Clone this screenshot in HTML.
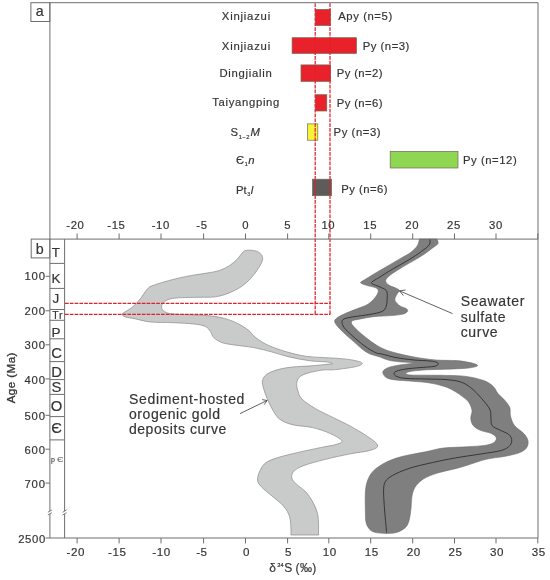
<!DOCTYPE html>
<html lang="en"><head><meta charset="utf-8"><title>Sulfur isotope chart</title>
<style>html,body{margin:0;padding:0;background:#fff}svg{display:block}</style></head>
<body>
<svg width="550" height="580" viewBox="0 0 550 580" font-family="'Liberation Sans', Arial, sans-serif" fill="#353535"><style>text{stroke:#353535;stroke-width:0.18px}</style>
<rect width="550" height="580" fill="#fff"/>
<path d="M318.5 535.0C318.5 532.9 318.7 526.0 318.5 522.2C318.3 518.4 318.1 515.4 317.1 512.0C316.1 508.6 314.6 505.2 312.7 501.8C310.8 498.4 308.2 494.5 305.5 491.6C302.8 488.7 299.0 486.7 296.7 484.4C294.4 482.1 292.3 480.2 291.8 478.0C291.3 475.8 291.8 473.4 293.8 471.3C295.8 469.2 298.9 467.4 304.0 465.5C309.1 463.6 316.6 461.6 324.4 459.6C332.1 457.7 343.2 455.2 350.5 453.8C357.8 452.4 363.5 452.0 368.0 450.9C372.5 449.8 376.1 448.6 377.3 447.1C378.5 445.7 377.3 444.2 375.3 442.2C373.3 440.2 369.2 437.6 365.1 434.9C361.0 432.2 355.8 429.1 350.5 426.2C345.2 423.3 338.9 420.4 333.1 417.5C327.3 414.6 320.8 411.8 315.6 408.7C310.4 405.6 304.7 401.8 301.8 398.9C298.9 396.0 298.9 393.9 298.0 391.3C297.1 388.8 296.5 385.9 296.7 383.6C296.9 381.3 297.6 379.0 299.3 377.3C301.0 375.6 303.1 374.6 306.9 373.4C310.7 372.2 317.4 370.7 322.2 370.1C327.0 369.5 329.9 370.2 335.5 369.6C341.1 369.0 351.4 367.7 355.8 366.6C360.2 365.6 362.6 364.4 362.2 363.3C361.8 362.2 357.8 361.1 353.3 360.2C348.9 359.3 343.2 358.8 335.5 358.2C327.8 357.6 315.1 357.5 306.9 356.4C298.7 355.3 292.9 353.6 286.5 351.8C280.1 350.0 273.8 347.8 268.7 345.5C263.6 343.2 259.4 340.4 256.0 337.8C252.6 335.2 251.4 332.5 248.4 330.2C245.4 327.9 242.2 325.8 238.2 323.8C234.2 321.8 229.8 319.8 224.5 318.4C219.2 317.0 213.0 316.2 206.7 315.6C200.3 315.0 192.3 314.9 186.4 314.6C180.5 314.3 174.8 314.4 171.0 313.8C167.2 313.2 165.0 312.2 163.4 310.8C161.8 309.4 161.3 307.4 161.7 305.7C162.1 304.0 163.6 301.9 166.0 300.6C168.4 299.3 170.7 298.6 176.2 298.0C181.7 297.4 192.5 297.5 199.0 297.3C205.5 297.1 210.5 297.5 215.3 296.8C220.1 296.1 223.8 295.0 228.0 293.4C232.2 291.8 236.9 289.6 240.7 287.1C244.5 284.6 247.9 281.4 250.9 278.2C253.9 275.0 256.6 271.0 258.5 268.0C260.4 265.0 261.8 262.5 262.4 260.4C262.9 258.3 262.6 256.8 261.8 255.3C261.0 253.8 259.3 252.3 257.3 251.5C255.3 250.7 251.9 250.2 249.6 250.2C247.3 250.2 245.6 250.0 243.6 251.5C241.6 253.0 239.6 256.8 237.3 259.1C235.0 261.4 232.6 263.6 229.6 265.5C226.6 267.4 223.2 269.2 219.4 270.5C215.6 271.8 212.2 272.1 206.7 273.1C201.2 274.1 192.8 275.1 186.4 276.4C180.0 277.7 174.2 279.1 168.5 280.7C162.8 282.3 155.6 284.3 152.0 285.8C148.4 287.3 148.8 287.5 146.9 289.6C145.0 291.7 142.8 295.6 140.5 298.5C138.2 301.4 135.7 304.4 132.9 306.7C130.2 309.0 125.8 311.2 124.0 312.5C122.2 313.8 122.0 313.9 122.2 314.6C122.4 315.3 123.1 316.2 125.3 316.9C127.5 317.6 131.3 318.0 135.5 318.9C139.7 319.8 144.3 321.4 150.7 322.0C157.0 322.6 166.4 322.4 173.6 322.7C180.8 323.0 188.7 323.4 194.0 324.0C199.3 324.6 202.7 325.2 205.4 326.5C208.2 327.8 209.1 329.7 210.5 331.6C211.9 333.5 211.9 335.9 214.0 337.8C216.1 339.7 218.9 341.6 222.9 342.9C226.9 344.2 233.1 344.7 238.2 345.5C243.3 346.3 247.9 346.4 253.4 347.5C258.9 348.6 265.4 350.2 271.3 351.8C277.2 353.4 282.6 355.4 289.0 356.9C295.4 358.4 303.0 359.8 309.4 360.7C315.8 361.6 323.5 361.5 327.3 362.0C331.1 362.5 331.5 363.5 332.4 363.8C329.0 364.1 318.8 365.2 312.0 365.8C305.2 366.4 297.5 366.4 291.6 367.1C285.7 367.8 280.6 368.8 276.4 370.1C272.2 371.4 268.5 372.9 266.2 374.7C263.9 376.5 262.8 378.8 262.4 381.1C262.0 383.4 262.8 385.7 263.6 388.7C264.4 391.7 266.0 395.6 267.4 398.9C268.8 402.2 270.0 405.4 272.0 408.7C274.0 412.0 275.9 416.2 279.3 418.9C282.7 421.6 286.8 423.2 292.4 424.7C298.0 426.1 306.4 426.1 312.7 427.6C319.0 429.1 325.3 431.3 330.2 433.5C335.1 435.7 340.8 438.9 341.8 440.7C342.8 442.5 339.4 443.4 336.0 444.5C332.6 445.6 327.8 446.1 321.5 447.4C315.2 448.7 305.5 450.7 298.2 452.4C290.9 454.1 283.1 455.9 277.8 457.6C272.5 459.3 269.1 460.5 266.2 462.5C263.3 464.5 261.8 466.9 260.4 469.8C258.9 472.7 257.3 477.1 257.5 480.0C257.7 482.9 259.4 484.6 261.8 487.3C264.2 490.0 268.4 492.9 272.0 496.0C275.6 499.1 280.7 502.8 283.6 506.2C286.5 509.6 288.3 512.8 289.5 516.4C290.7 520.0 290.7 524.9 290.9 528.0C291.1 531.1 290.9 533.8 290.9 535.0Z" fill="#c9caca" stroke="#8a8a8a" stroke-width="0.7" stroke-linejoin="round"/>
<path d="M419.5 239.0C419.1 240.1 418.8 243.6 417.3 245.8C415.8 248.0 413.6 250.2 410.7 252.4C407.8 254.6 403.8 256.5 399.8 258.9C395.8 261.2 391.1 263.9 386.7 266.5C382.3 269.1 377.2 272.0 373.6 274.2C370.0 276.4 366.9 278.4 364.9 279.6C362.9 280.8 362.1 281.1 361.4 281.6C360.7 282.1 360.3 282.4 360.5 282.8C360.7 283.2 361.2 283.5 362.5 284.0C363.8 284.5 365.8 285.1 368.2 285.8C370.6 286.5 375.3 287.2 376.9 288.4C378.5 289.5 378.6 290.9 378.0 292.7C377.4 294.5 375.4 297.3 373.6 299.3C371.8 301.3 370.0 303.1 367.1 304.7C364.2 306.3 359.8 307.6 356.2 309.1C352.6 310.6 348.4 312.1 345.3 313.5C342.2 314.9 339.4 316.1 337.6 317.4C335.8 318.7 334.6 319.6 334.6 321.1C334.6 322.6 335.8 324.3 337.6 326.5C339.4 328.7 342.6 331.6 345.3 334.2C348.0 336.8 351.1 339.2 354.0 341.8C356.9 344.4 360.0 347.5 362.7 349.5C365.4 351.5 367.1 352.8 370.0 354.0C372.9 355.2 376.7 355.9 380.0 357.0C383.3 358.1 386.3 359.8 390.0 360.6C393.7 361.4 398.2 361.6 402.0 362.0C405.8 362.4 413.3 362.5 413.0 363.0C412.7 363.5 403.8 364.3 400.0 365.0C396.2 365.7 392.7 366.2 390.0 367.0C387.3 367.8 385.2 368.9 384.0 370.0C382.8 371.1 382.5 372.3 383.0 373.6C383.5 374.9 384.8 376.9 387.0 378.0C389.2 379.1 392.2 379.5 396.0 380.0C399.8 380.5 404.3 380.5 410.0 381.0C415.7 381.5 424.0 382.0 430.0 383.0C436.0 384.0 441.7 385.5 446.0 387.0C450.3 388.5 453.2 390.4 456.0 392.0C458.8 393.6 460.4 395.0 462.5 396.6C464.6 398.2 466.9 399.6 468.5 401.9C470.1 404.2 471.6 407.4 472.0 410.2C472.4 413.0 470.6 415.9 470.8 418.5C471.0 421.1 471.6 423.5 473.2 425.5C474.8 427.5 477.4 429.0 480.3 430.3C483.2 431.6 488.3 432.1 490.9 433.3C493.5 434.5 495.5 435.9 496.1 437.4C496.7 438.9 496.1 440.8 494.5 442.1C492.9 443.4 490.7 444.4 486.2 445.2C481.7 446.0 474.4 446.3 467.3 446.8C460.2 447.3 450.6 447.2 443.6 448.0C436.7 448.8 432.5 450.4 425.6 451.8C418.7 453.2 408.7 454.7 402.0 456.5C395.3 458.3 390.2 460.1 385.5 462.5C380.8 464.9 376.6 467.8 373.6 470.7C370.6 473.6 369.1 476.6 367.7 480.2C366.3 483.8 365.8 486.9 365.4 492.0C365.0 497.1 365.3 505.8 365.4 510.9C365.5 516.0 365.3 519.6 366.1 522.7C366.9 525.9 368.5 528.1 370.1 529.8C371.8 531.4 373.1 532.0 376.0 532.6C378.9 533.2 384.2 533.5 387.8 533.4C391.4 533.3 394.4 533.2 397.3 532.2C400.2 531.2 403.5 529.4 405.5 527.4C407.5 525.4 408.2 523.5 409.1 520.4C410.0 517.2 410.5 512.5 411.0 508.5C411.5 504.6 411.2 500.2 411.9 496.7C412.6 493.2 413.1 490.2 415.0 487.3C416.9 484.4 419.6 481.4 423.3 479.0C427.0 476.6 431.9 474.9 437.4 473.1C442.9 471.3 451.4 469.7 456.4 468.4C461.4 467.1 462.3 466.7 467.3 465.2C472.3 463.7 479.9 460.8 486.2 459.3C492.5 457.8 499.6 457.4 505.1 456.3C510.6 455.2 515.8 454.1 519.3 452.7C522.8 451.3 524.9 450.0 526.4 448.0C527.9 446.0 528.4 443.3 528.0 440.9C527.6 438.5 526.2 436.4 524.0 433.8C521.8 431.2 516.8 428.4 514.5 425.5C512.2 422.6 511.3 419.1 510.5 416.1C509.7 413.2 510.7 410.4 509.8 407.8C508.9 405.2 507.1 403.1 505.1 400.7C503.1 398.3 500.0 396.0 498.0 393.6C496.0 391.2 495.7 388.7 493.3 386.5C490.9 384.3 488.4 382.3 483.8 380.6C479.2 378.9 472.3 377.3 466.0 376.4C459.7 375.5 452.7 375.6 446.0 375.4C439.3 375.2 432.0 375.3 426.0 375.2C420.0 375.1 413.4 375.3 410.0 375.0C406.6 374.7 405.8 373.8 405.8 373.2C405.8 372.6 407.6 372.0 410.0 371.5C412.4 371.0 415.7 370.7 420.0 370.3C424.3 369.9 430.3 369.6 436.0 369.4C441.7 369.2 448.3 369.2 454.0 368.9C459.7 368.6 466.1 368.4 470.0 367.8C473.9 367.2 477.6 366.4 477.6 365.5C477.6 364.6 473.6 363.4 470.0 362.6C466.4 361.8 461.7 361.0 456.0 360.6C450.3 360.2 443.0 360.6 436.0 360.0C429.0 359.4 420.7 358.2 414.0 357.0C407.3 355.8 401.3 354.4 396.0 353.0C390.7 351.6 386.5 350.3 382.4 348.4C378.3 346.5 375.1 344.4 371.5 341.8C367.9 339.2 363.6 335.8 360.5 333.1C357.4 330.4 354.4 327.3 352.9 325.5C351.4 323.7 351.4 323.3 351.4 322.5C351.4 321.7 351.4 321.1 352.9 320.5C354.4 319.9 357.1 319.5 360.5 318.9C363.9 318.3 368.5 317.2 373.6 316.7C378.7 316.1 386.2 316.0 391.1 315.6C396.0 315.2 400.4 314.8 403.1 314.1C405.8 313.4 406.9 312.2 407.5 311.3C408.1 310.4 407.7 309.6 406.4 308.7C405.1 307.8 401.7 307.2 399.8 305.8C397.9 304.4 395.6 302.2 395.0 300.4C394.4 298.6 395.8 296.5 396.5 294.9C397.2 293.2 399.4 291.6 399.4 290.5C399.4 289.4 398.2 289.3 396.5 288.4C394.8 287.5 390.7 286.4 388.9 285.1C387.1 283.8 385.4 282.3 385.6 280.7C385.8 279.1 387.6 277.3 390.0 275.3C392.4 273.3 396.0 271.1 399.8 268.7C403.6 266.3 408.9 263.5 412.9 261.1C416.9 258.7 420.5 256.7 423.8 254.5C427.1 252.3 430.1 249.8 432.5 248.0C434.9 246.2 437.3 245.1 438.0 243.6C438.7 242.1 437.1 239.8 436.9 239.0Z" fill="#7f7f7f" stroke="#6c6c6c" stroke-width="0.6" stroke-linejoin="round"/>
<path d="M429.9 239.0C429.8 239.9 430.7 242.6 429.3 244.7C427.9 246.8 425.1 248.8 421.6 251.3C418.1 253.9 413.2 257.1 408.5 260.0C403.8 262.9 398.2 265.8 393.3 268.7C388.4 271.6 382.7 275.1 379.1 277.5C375.5 279.9 371.5 281.4 371.5 282.9C371.5 284.4 376.6 285.3 379.1 286.6C381.6 287.9 385.0 288.8 386.3 290.5C387.6 292.2 387.2 294.6 387.2 297.1C387.2 299.7 387.1 303.4 386.3 305.8C385.5 308.2 385.2 309.9 382.4 311.3C379.6 312.8 374.0 313.6 369.3 314.5C364.6 315.4 358.2 316.0 354.0 316.7C349.8 317.4 346.2 318.0 344.2 318.9C342.2 319.8 342.0 320.8 342.0 322.2C342.0 323.6 342.6 325.4 344.2 327.6C345.8 329.8 348.4 332.2 351.8 335.3C355.2 338.4 360.9 343.3 364.9 346.2C368.9 349.1 372.9 351.4 375.8 352.7C378.7 354.0 378.6 353.2 382.0 354.0C385.4 354.8 390.7 356.6 396.0 357.6C401.3 358.6 408.3 359.4 414.0 360.0C419.7 360.6 426.2 360.6 430.0 361.0C433.8 361.4 435.7 361.8 437.0 362.4C438.3 363.0 438.5 363.7 438.0 364.4C437.5 365.1 437.0 365.9 434.0 366.4C431.0 366.9 424.7 367.2 420.0 367.6C415.3 368.0 409.8 368.4 406.0 369.0C402.2 369.6 399.0 370.2 397.0 371.0C395.0 371.8 394.0 372.7 394.0 373.6C394.0 374.5 395.0 375.8 397.0 376.6C399.0 377.4 401.2 378.0 406.0 378.4C410.8 378.8 419.3 378.8 426.0 379.0C432.7 379.2 440.3 379.1 446.0 379.6C451.7 380.1 456.1 380.5 460.2 381.8C464.3 383.1 467.2 384.9 470.8 387.7C474.4 390.5 478.4 394.8 481.5 398.4C484.6 401.9 488.1 405.9 489.7 409.0C491.3 412.1 490.5 414.6 490.9 417.3C491.3 420.1 490.5 423.3 492.1 425.5C493.7 427.7 497.6 428.8 500.4 430.3C503.1 431.8 506.7 432.7 508.6 434.3C510.5 435.9 511.5 437.8 511.7 439.7C511.9 441.6 511.5 443.8 509.8 445.6C508.1 447.4 506.2 449.0 501.5 450.4C496.8 451.8 489.2 452.6 481.5 453.9C473.8 455.1 463.6 456.5 455.5 457.9C447.4 459.3 440.4 460.8 432.7 462.5C425.0 464.2 415.8 466.2 409.1 468.4C402.4 470.6 396.4 473.3 392.5 475.5C388.6 477.7 387.0 479.0 385.5 481.4C384.0 483.8 383.8 485.5 383.6 489.6C383.4 493.7 384.0 501.1 384.3 506.2C384.6 511.3 385.1 516.0 385.5 520.4C385.9 524.8 386.4 530.6 386.6 532.6" fill="none" stroke="#2e2e2e" stroke-width="0.9"/>
<rect x="315.3" y="9.4" width="15.0" height="16.1" fill="#e8212b" stroke="#6e6a58" stroke-width="0.7"/>
<rect x="292.1" y="37.7" width="64.4" height="15.7" fill="#e8212b" stroke="#6e6a58" stroke-width="0.7"/>
<rect x="301.0" y="64.9" width="29.6" height="16.5" fill="#e8212b" stroke="#6e6a58" stroke-width="0.7"/>
<rect x="315.3" y="94.7" width="11.5" height="16.3" fill="#e8212b" stroke="#6e6a58" stroke-width="0.7"/>
<rect x="307.4" y="123.9" width="10.4" height="16.3" fill="#f5f43a" stroke="#6e6a58" stroke-width="0.7"/>
<rect x="390.2" y="151.4" width="67.8" height="16.6" fill="#8fd652" stroke="#6e6a58" stroke-width="0.7"/>
<rect x="312.5" y="179.2" width="19.1" height="16.5" fill="#5d5b5b" stroke="#6e6a58" stroke-width="0.7"/>
<g fill="none" stroke="#e0222b" stroke-width="1.25" stroke-dasharray="3.7 1.1">
<path d="M315.2 3.2V314.9"/><path d="M330 3.2V314.9"/>
<path d="M65 303.4H330.5"/><path d="M65 314.4H330.5"/>
</g>
<g fill="none" stroke="#6e6e6e" stroke-width="1">
<path d="M49.9 2.7H538.0V538H49.9Z"/>
<path d="M49.9 239.1H538.0"/>
<path d="M64.6 239.1V538"/>
<rect x="30.9" y="2.7" width="18.9" height="18.8"/>
<rect x="31.2" y="239.1" width="18.6" height="18.8"/>
<path d="M49.9 263.4H64.6"/>
<path d="M49.9 288.4H64.6"/>
<path d="M49.9 309.5H64.6"/>
<path d="M49.9 320.3H64.6"/>
<path d="M49.9 338.8H64.6"/>
<path d="M49.9 361.6H64.6"/>
<path d="M49.9 379.6H64.6"/>
<path d="M49.9 394.4H64.6"/>
<path d="M49.9 416.6H64.6"/>
<path d="M49.9 439.9H64.6"/>
<path d="M77.1 233.5V239.1"/>
<path d="M77.1 538V543.4"/>
<path d="M119.1 233.5V239.1"/>
<path d="M119.1 538V543.4"/>
<path d="M161.0 233.5V239.1"/>
<path d="M161.0 538V543.4"/>
<path d="M203.6 233.5V239.1"/>
<path d="M203.6 538V543.4"/>
<path d="M245.5 233.5V239.1"/>
<path d="M245.5 538V543.4"/>
<path d="M287.6 233.5V239.1"/>
<path d="M287.6 538V543.4"/>
<path d="M328.8 233.5V239.1"/>
<path d="M328.8 538V543.4"/>
<path d="M370.7 233.5V239.1"/>
<path d="M370.7 538V543.4"/>
<path d="M412.7 233.5V239.1"/>
<path d="M412.7 538V543.4"/>
<path d="M454.5 233.5V239.1"/>
<path d="M454.5 538V543.4"/>
<path d="M496.0 233.5V239.1"/>
<path d="M496.0 538V543.4"/>
<path d="M537.8 233.5V239.1"/>
<path d="M537.8 538V543.4"/>
<path d="M45.5 276.3H49.9"/>
<path d="M45.5 310.8H49.9"/>
<path d="M45.5 344.8H49.9"/>
<path d="M45.5 378.9H49.9"/>
<path d="M45.5 415.3H49.9"/>
<path d="M45.5 449.2H49.9"/>
<path d="M45.5 483.1H49.9"/>
<path d="M45.5 538.0H49.9"/>
</g>
<rect x="47.5" y="511.2" width="19.5" height="2.6" fill="#fff"/>
<g fill="none" stroke="#6e6e6e" stroke-width="0.9">
<path d="M47.9 512.3L51.9 509.9"/>
<path d="M47.9 515.0L51.9 512.6"/>
<path d="M62.6 512.3L66.6 509.9"/>
<path d="M62.6 515.0L66.6 512.6"/>
</g>
<g fill="none" stroke="#3a3a3a" stroke-width="0.8">
<path d="M240 413.6L267.1 400.5"/><path d="M262.2 399.6L267.1 400.5L264.2 404.6"/>
<path d="M452.5 313.6L399.6 290.9"/><path d="M405.5 290L399.6 290.9L403.3 295.5"/>
</g>
<text x="75.4" y="229.0" font-size="11.3" text-anchor="middle" letter-spacing="0.6">-20</text>
<text x="116.4" y="229.0" font-size="11.3" text-anchor="middle" letter-spacing="0.6">-15</text>
<text x="160.8" y="229.0" font-size="11.3" text-anchor="middle" letter-spacing="0.6">-10</text>
<text x="201.9" y="229.0" font-size="11.3" text-anchor="middle" letter-spacing="0.6">-5</text>
<text x="245.8" y="229.0" font-size="11.3" text-anchor="middle" letter-spacing="0.6">0</text>
<text x="287.6" y="229.0" font-size="11.3" text-anchor="middle" letter-spacing="0.6">5</text>
<text x="328.3" y="229.0" font-size="11.3" text-anchor="middle" letter-spacing="0.6">10</text>
<text x="370.2" y="229.0" font-size="11.3" text-anchor="middle" letter-spacing="0.6">15</text>
<text x="412.2" y="229.0" font-size="11.3" text-anchor="middle" letter-spacing="0.6">20</text>
<text x="454.0" y="229.0" font-size="11.3" text-anchor="middle" letter-spacing="0.6">25</text>
<text x="496.0" y="229.0" font-size="11.3" text-anchor="middle" letter-spacing="0.6">30</text>
<text x="75.9" y="555.6" font-size="11.6" text-anchor="middle" letter-spacing="0.6">-20</text>
<text x="117.4" y="555.6" font-size="11.6" text-anchor="middle" letter-spacing="0.6">-15</text>
<text x="161.5" y="555.6" font-size="11.6" text-anchor="middle" letter-spacing="0.6">-10</text>
<text x="201.9" y="555.6" font-size="11.6" text-anchor="middle" letter-spacing="0.6">-5</text>
<text x="246.5" y="555.6" font-size="11.6" text-anchor="middle" letter-spacing="0.6">0</text>
<text x="288.6" y="555.6" font-size="11.6" text-anchor="middle" letter-spacing="0.6">5</text>
<text x="329.8" y="555.6" font-size="11.6" text-anchor="middle" letter-spacing="0.6">10</text>
<text x="371.7" y="555.6" font-size="11.6" text-anchor="middle" letter-spacing="0.6">15</text>
<text x="413.7" y="555.6" font-size="11.6" text-anchor="middle" letter-spacing="0.6">20</text>
<text x="455.5" y="555.6" font-size="11.6" text-anchor="middle" letter-spacing="0.6">25</text>
<text x="497.0" y="555.6" font-size="11.6" text-anchor="middle" letter-spacing="0.6">30</text>
<text x="538.8" y="555.6" font-size="11.6" text-anchor="middle" letter-spacing="0.6">35</text>
<text x="24.4" y="280.3" font-size="11.3" text-anchor="start" textLength="20.6" lengthAdjust="spacing">100</text>
<text x="24.4" y="314.8" font-size="11.3" text-anchor="start" textLength="20.6" lengthAdjust="spacing">200</text>
<text x="24.4" y="349.2" font-size="11.3" text-anchor="start" textLength="20.6" lengthAdjust="spacing">300</text>
<text x="24.4" y="384.2" font-size="11.3" text-anchor="start" textLength="20.6" lengthAdjust="spacing">400</text>
<text x="24.4" y="420.2" font-size="11.3" text-anchor="start" textLength="20.6" lengthAdjust="spacing">500</text>
<text x="24.4" y="454.4" font-size="11.3" text-anchor="start" textLength="20.6" lengthAdjust="spacing">600</text>
<text x="24.4" y="487.9" font-size="11.3" text-anchor="start" textLength="20.6" lengthAdjust="spacing">700</text>
<text x="18.2" y="542.6" font-size="11.3" text-anchor="start" textLength="27.0" lengthAdjust="spacing">2500</text>
<text x="39.8" y="15.9" font-size="14.3" text-anchor="middle">a</text>
<text x="39.8" y="253.7" font-size="14.3" text-anchor="middle">b</text>
<text x="55.9" y="256.8" font-size="13.5" text-anchor="middle">T</text>
<text x="55.9" y="282.5" font-size="13.5" text-anchor="middle">K</text>
<text x="55.9" y="302.7" font-size="13.5" text-anchor="middle">J</text>
<text x="55.9" y="336.6" font-size="13.5" text-anchor="middle">P</text>
<text x="56.5" y="358.0" font-size="14.8" text-anchor="middle">C</text>
<text x="56.5" y="376.7" font-size="14.8" text-anchor="middle">D</text>
<text x="56.5" y="392.4" font-size="14.8" text-anchor="middle">S</text>
<text x="56.5" y="411.0" font-size="14.8" text-anchor="middle">O</text>
<text x="56.5" y="433.1" font-size="14.8" text-anchor="middle">Є</text>
<text x="52.2" y="318.5" font-size="10.5" text-anchor="start" textLength="10.3" lengthAdjust="spacing">Tr</text>
<text x="50.9" y="461.7" font-size="7" fill="#4a4a4a" style="stroke:#4a4a4a;stroke-width:0.15px">p</text>
<text x="56.9" y="462.1" font-size="7.3" fill="#4a4a4a" style="stroke:none" textLength="6.5" lengthAdjust="spacingAndGlyphs">Є</text>
<text x="221.8" y="19.9" font-size="11.3" text-anchor="start" textLength="48.4" lengthAdjust="spacing">Xinjiazui</text>
<text x="221.8" y="49.7" font-size="11.3" text-anchor="start" textLength="48.4" lengthAdjust="spacing">Xinjiazui</text>
<text x="219.5" y="76.9" font-size="11.3" text-anchor="start" textLength="52.2" lengthAdjust="spacing">Dingjialin</text>
<text x="212.3" y="105.9" font-size="11.3" text-anchor="start" textLength="67.0" lengthAdjust="spacing">Taiyangping</text>
<text x="230.5" y="136.4" font-size="11.3">S<tspan font-size="5.8" dy="2.3" dx="0.6" letter-spacing="0.5">1−2</tspan><tspan dy="-2.3" dx="0.5" font-style="italic">M</tspan></text>
<text x="236" y="164" font-size="11.3">Є<tspan font-size="5.5" dy="2.3" dx="0.5">1</tspan><tspan dy="-2.3" dx="0.5" font-style="italic">n</tspan></text>
<text x="236" y="194" font-size="11.3">Pt<tspan font-size="5.5" dy="2.3" dx="0.5">3</tspan><tspan dy="-2.3" dx="0.5" font-style="italic">l</tspan></text>
<text x="338.2" y="20.4" font-size="11.3" text-anchor="start" textLength="54.0" lengthAdjust="spacing">Apy (n=5)</text>
<text x="362.8" y="49.6" font-size="11.3" text-anchor="start" textLength="46.5" lengthAdjust="spacing">Py (n=3)</text>
<text x="336.7" y="77.1" font-size="11.3" text-anchor="start" textLength="45.8" lengthAdjust="spacing">Py (n=2)</text>
<text x="336.7" y="106.5" font-size="11.3" text-anchor="start" textLength="45.8" lengthAdjust="spacing">Py (n=6)</text>
<text x="333.6" y="136.4" font-size="11.3" text-anchor="start" textLength="47.0" lengthAdjust="spacing">Py (n=3)</text>
<text x="462.9" y="164.2" font-size="11.3" text-anchor="start" textLength="53.8" lengthAdjust="spacing">Py (n=12)</text>
<text x="341.3" y="193.2" font-size="11.3" text-anchor="start" textLength="46.3" lengthAdjust="spacing">Py (n=6)</text>
<text x="128.9" y="403.5" font-size="14" text-anchor="start" textLength="115.5" lengthAdjust="spacing">Sediment-hosted</text>
<text x="128.9" y="418.9" font-size="14" text-anchor="start" textLength="91.1" lengthAdjust="spacing">orogenic gold</text>
<text x="128.9" y="434.0" font-size="14" text-anchor="start" textLength="97.5" lengthAdjust="spacing">deposits curve</text>
<text x="460.7" y="306.4" font-size="14" text-anchor="start" textLength="63.7" lengthAdjust="spacing">Seawater</text>
<text x="460.7" y="321.8" font-size="14" text-anchor="start" textLength="44.8" lengthAdjust="spacing">sulfate</text>
<text x="460.7" y="336.9" font-size="14" text-anchor="start" textLength="36.9" lengthAdjust="spacing">curve</text>
<text transform="translate(15 403.3) rotate(-90)" font-size="11.6" textLength="50.8" lengthAdjust="spacing" style="stroke-width:0.3px">Age (Ma)</text>
<text y="571.5" font-size="12"><tspan x="269.3">δ</tspan><tspan x="277.2" font-size="5.6" dy="-5" letter-spacing="0.3">34</tspan><tspan x="284.2" dy="5">S</tspan><tspan x="295.6" letter-spacing="0.35">(‰)</tspan></text>
</svg>
</body></html>
